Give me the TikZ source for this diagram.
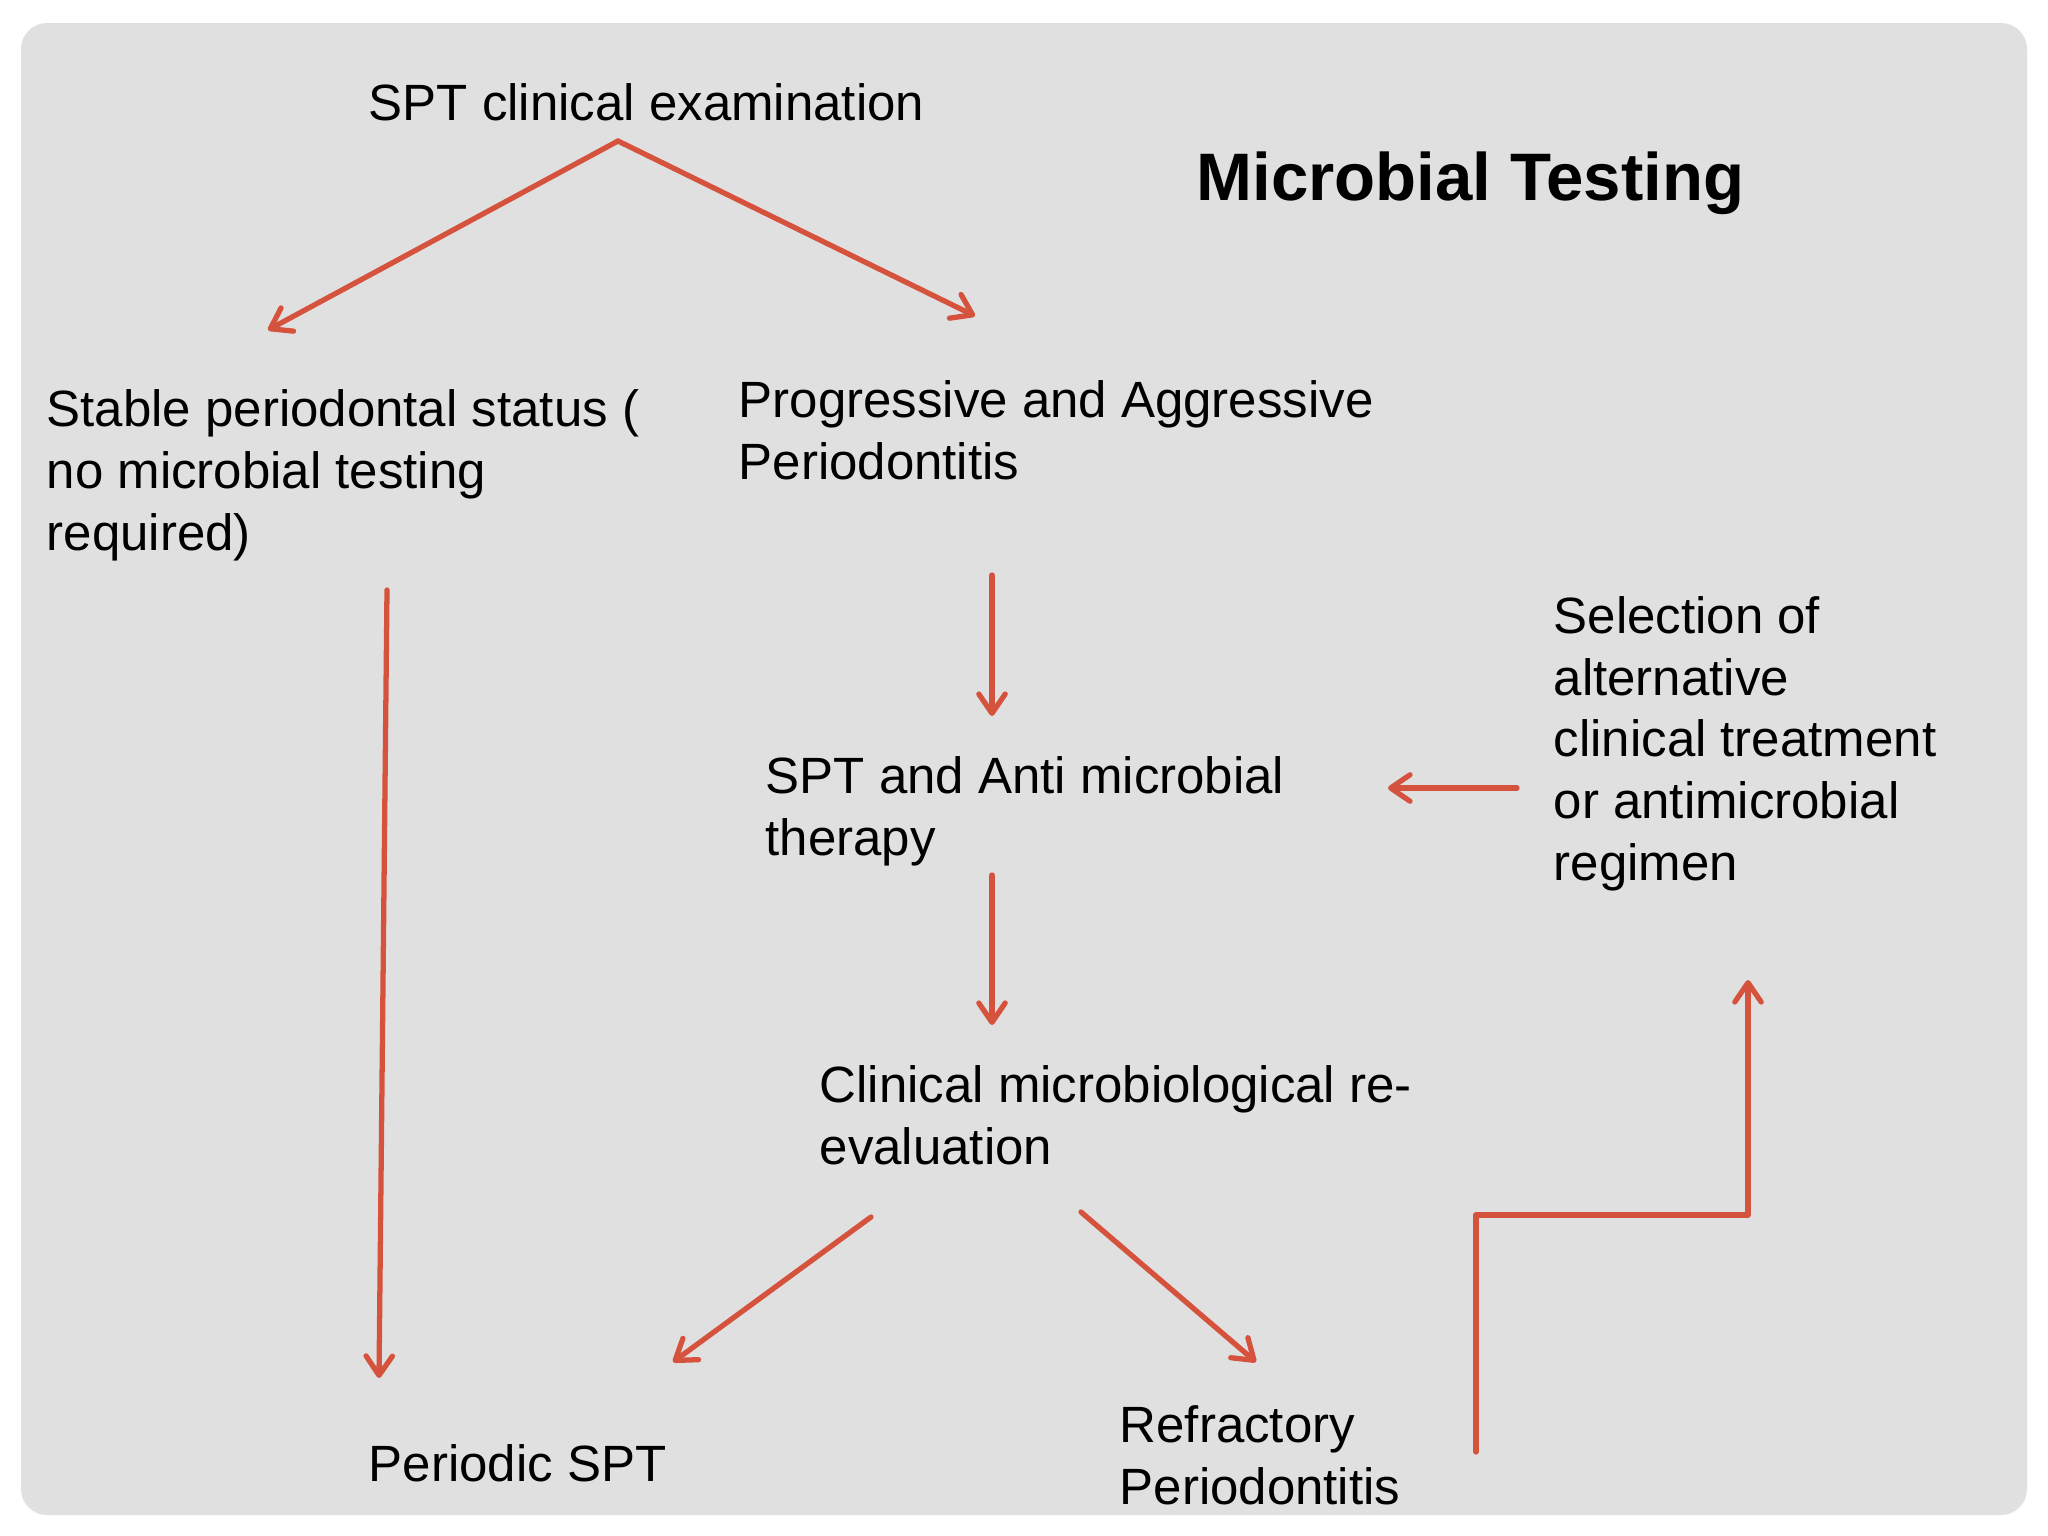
\documentclass[tikz,border=0pt]{standalone}
\usepackage{fontspec}
\setmainfont{Liberation Sans}
\usetikzlibrary{arrows.meta}
\definecolor{panel}{HTML}{E0E0E1}
\definecolor{arrowred}{HTML}{D5533D}
\begin{document}
\begin{tikzpicture}[x=0.01cm,y=-0.01cm,
  txt/.style={anchor=base west, inner sep=0pt, align=left,
    font=\fontsize{14.5pt}{17.5pt}\selectfont, text=black},
  titletxt/.style={anchor=base west, inner sep=0pt,
    font=\fontsize{19.1pt}{23pt}\selectfont\bfseries, text=black},
  flow/.style={draw=arrowred, line width=1.5pt, line cap=round, line join=round,
    -{Straight Barb[length=5.5pt,width=7.5pt,round]}}]
\useasboundingbox (0,0) rectangle (2048,1536);
\fill[white] (0,0) rectangle (2048,1536);
\fill[panel, rounded corners=7.4pt] (21,23) rectangle (2027,1515);

% texts (anchored at the baseline of the last line)
\node[txt] (exam) at (368,120) {SPT clinical examination};
\node[titletxt] (title) at (1196,200) {Microbial Testing};
\node[txt] (stable) at (46,550) {Stable periodontal status (\\no microbial testing\\required)};
\node[txt] (prog) at (738,479) {Progressive and Aggressive\\Periodontitis};
\node[txt] (sel) at (1553,880) {Selection of\\alternative\\clinical treatment\\or antimicrobial\\regimen};
\node[txt] (spt) at (765,855) {SPT and Anti microbial\\therapy};
\node[txt] (reval) at (819,1164) {Clinical microbiological re-\\evaluation};
\node[txt] (periodic) at (368,1481) {Periodic SPT};
\node[txt] (refr) at (1119,1504) {Refractory\\Periodontitis};

% connector end points
\coordinate (examsplit) at (618,141);
\coordinate (stablein) at (268,330);
\coordinate (progin) at (975,316);
\coordinate (stableout) at (387,590);
\coordinate (periodicin) at (379,1378);
\coordinate (progout) at (992,575);
\coordinate (sptin) at (992,716);
\coordinate (sptout) at (992,875);
\coordinate (revalin) at (992,1025);
\coordinate (selout) at (1517,788);
\coordinate (sptright) at (1388,788);
\coordinate (revaloutl) at (871,1217);
\coordinate (periodicin2) at (673,1362);
\coordinate (revaloutr) at (1081,1212);
\coordinate (refrin) at (1256,1362);
\coordinate (refrout) at (1476,1452);
\coordinate (selin) at (1748,980);

% connectors
\draw[flow] (examsplit) -- (stablein);
\draw[flow] (examsplit) -- (progin);
\draw[flow] (stableout) -- (periodicin);
\draw[flow] (progout) -- (sptin);
\draw[flow] (sptout) -- (revalin);
\draw[flow] (selout) -- (sptright);
\draw[flow] (revaloutl) -- (periodicin2);
\draw[flow] (revaloutr) -- (refrin);
\draw[flow] (refrout) -- (1476,1215) -- (1748,1215) -- (selin);
\end{tikzpicture}
\end{document}
